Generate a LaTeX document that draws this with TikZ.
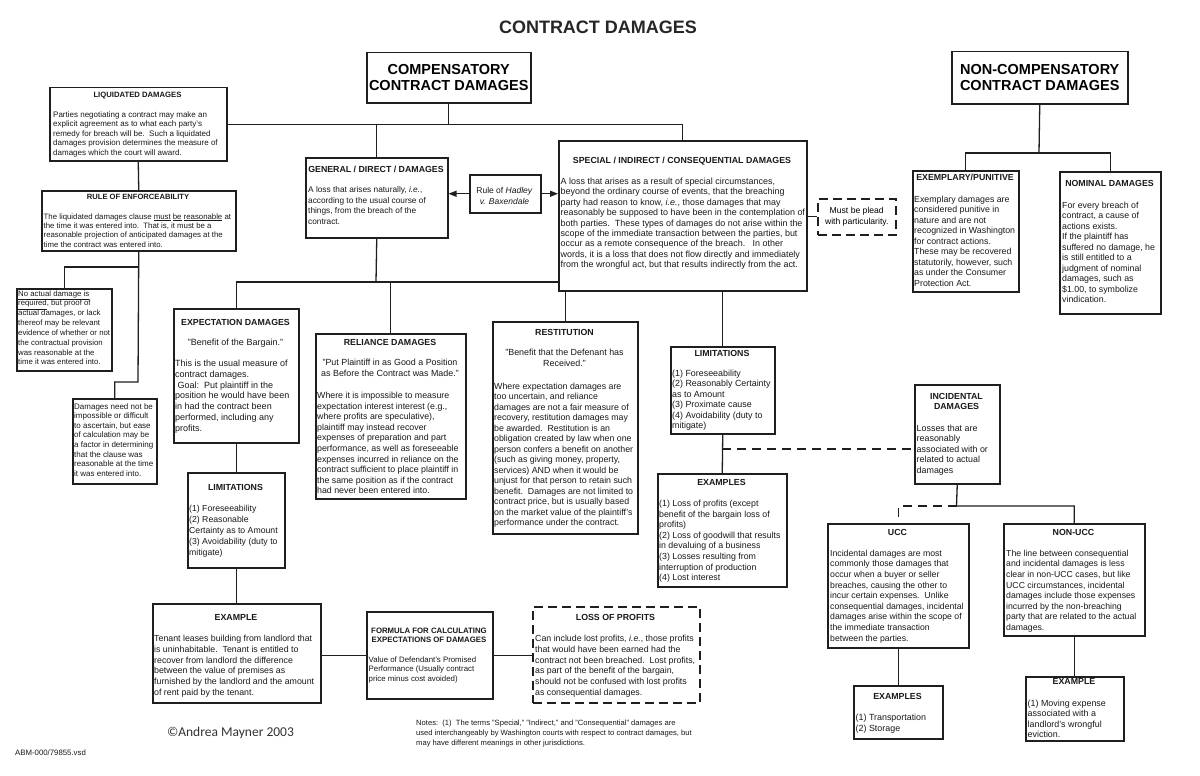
\documentclass[tikz,border=0pt]{standalone}
\usepackage{fontspec}
\setmainfont{Liberation Sans}
\newfontfamily\carl{Carlito}
\usetikzlibrary{arrows.meta}
\pgfdeclarelayer{bg}
\pgfsetlayers{bg,main}
\tikzset{
  box/.style={draw=black!88, line width=1.5pt, fill=white, inner sep=0pt, anchor=north west, rectangle},
  dbox/.style={box, dash pattern=on 9pt off 5pt},
  conn/.style={draw=black!88, line width=1.3pt},
  dconn/.style={conn, dash pattern=on 9pt off 6pt},
  arr/.style={conn, -{Triangle[length=8pt,width=6pt]}},
  hd/.style={font=\bfseries\fontsize{8.8}{10.4}\selectfont, inner sep=0pt, text=black!90, align=center},
  tx/.style={inner sep=0pt, text=black!90, align=left, anchor=north west},
  ctx/.style={inner sep=0pt, text=black!90, align=center},
}
\newcommand\bx[6][box]{\node[#1, minimum width={#5pt-#3pt}, minimum height={#6pt-#4pt}] (#2) at (#3,#4) {};}
\newcommand\tb[6]{\node[tx, font=\fontsize{#4}{#5}\selectfont] (#1) at ({#2+1},{#3-0.36*#4}) {#6};}
\begin{document}
\begin{tikzpicture}[x=1pt,y=-1pt]
\useasboundingbox (0,0) rectangle (1200,776);
\begin{pgfonlayer}{bg}
\fill[white] (0,0) rectangle (1200,776);
\end{pgfonlayer}

% headings
\node[inner sep=0pt, text=black!85, font=\bfseries\fontsize{18}{20}\selectfont] (ttl) at (598,27) {CONTRACT DAMAGES};
\node[box, minimum width=164pt, minimum height=50pt, align=center, font=\bfseries\fontsize{14.5}{16}\selectfont] (comp) at (366,52) {COMPENSATORY\\CONTRACT DAMAGES};
\node[box, minimum width=176pt, minimum height=52pt, align=center, font=\bfseries\fontsize{14.5}{16}\selectfont] (ncomp) at (951,51) {NON-COMPENSATORY\\CONTRACT DAMAGES};

% liquidated
\bx{liq}{49}{87}{226}{160}
\node[hd, font=\bfseries\fontsize{7.7}{9}\selectfont] (liqh) at (137.5,96) {LIQUIDATED DAMAGES};
\tb{liqb}{52}{114}{8}{9.6}{Parties negotiating a contract may make an\\explicit agreement as to what each party's\\remedy for breach will be.\ \ Such a liquidated\\damages provision determines the measure of\\damages which the court will award.}

\bx{rule}{41}{190}{235}{250}
\node[hd, font=\bfseries\fontsize{7.6}{9}\selectfont] (ruleh) at (138,197) {RULE OF ENFORCEABILITY};
\tb{ruleb}{42.5}{216}{7.8}{9.4}{The liquidated damages clause \underline{must} \underline{be} \underline{reasonable} at\\the time it was entered into.\ \ That is, it must be a\\reasonable projection of anticipated damages at the\\time the contract was entered into.}

\bx{noact}{16}{288}{111}{370}
\tb{noactb}{17}{293}{7.8}{9.85}{\underline{No actual damage is}\\\underline{required}, but proof of\\actual damages, or lack\\thereof may be relevant\\evidence of whether or not\\the contractual provision\\was reasonable at the\\time it was entered into.}

\bx{dmg}{72}{398}{156}{483}
\tb{dmgb}{73}{406}{8}{9.6}{Damages need not be\\impossible or difficult\\to ascertain, but ease\\of calculation may be\\a factor in determining\\that the clause was\\reasonable at the time\\it was entered into.}

% general / hadley / special
\bx{gen}{305}{157}{447}{237}
\node[hd] (genh) at (376,169) {GENERAL / DIRECT / DAMAGES};
\tb{genb}{307}{189}{8.3}{10.8}{A loss that arises naturally, \textit{i.e.},\\according to the usual course of\\things, from the breach of the\\contract.}

\bx{had}{469}{174}{540}{212}
\node[ctx, font=\fontsize{8.5}{10.5}\selectfont] (hadt) at (504.5,196) {Rule of \textit{Hadley}\\\textit{v. Baxendale}};

\bx{spec}{558}{140}{806}{290}
\node[hd] (spech) at (682,161) {SPECIAL / INDIRECT / CONSEQUENTIAL DAMAGES};
\tb{specb}{559.5}{181}{8.95}{10.4}{A loss that arises as a result of special circumstances,\\beyond the ordinary course of events, that the breaching\\party had reason to know, \textit{i.e.}, those damages that may\\reasonably be supposed to have been in the contemplation of\\both parties.\ \ These types of damages do not arise within the\\scope of the immediate transaction between the parties, but\\occur as a remote consequence of the breach.\ \ \ In other\\words, it is a loss that does not flow directly and immediately\\from the wrongful act, but that results indirectly from the act.}

\node[dbox, minimum width=78pt, minimum height=36pt, align=center, font=\fontsize{8.6}{11.5}\selectfont] (mbp) at (817,198) {Must be plead\\with particularity.};

% non-compensatory
\bx{exem}{912}{170}{1018}{291}
\node[hd] (exemh) at (965,177) {EXEMPLARY/PUNITIVE};
\tb{exemb}{913}{199}{8.8}{10.5}{Exemplary damages are\\considered punitive in\\nature and are not\\recognized in Washington\\for contract actions.\\These may be recovered\\statutorily, however, such\\as under the Consumer\\Protection Act.}

\bx{nom}{1059}{171}{1160}{313}
\node[hd] (nomh) at (1109.5,183) {NOMINAL DAMAGES};
\tb{nomb}{1061}{205}{8.8}{10.5}{For every breach of\\contract, a cause of\\actions exists.\\If the plaintiff has\\suffered no damage, he\\is still entitled to a\\judgment of nominal\\damages, such as\\\$1.00, to symbolize\\vindication.}

% middle row
\bx{exp}{173}{308}{298}{442}
\node[hd] (exph) at (235.5,322) {EXPECTATION DAMAGES};
\node[ctx, font=\fontsize{9}{10.8}\selectfont] (expq) at (235.5,343) {"Benefit of the Bargain."};
\tb{expb}{174}{363}{9}{10.8}{This is the usual measure of\\contract damages.\\\hspace*{2.5pt}Goal:\ \ Put plaintiff in the\\position he would have been\\in had the contract been\\performed, including any\\profits.}

\bx{rel}{315}{333}{465}{498}
\node[hd] (relh) at (390,342) {RELIANCE DAMAGES};
\node[ctx, font=\fontsize{8.9}{10.4}\selectfont] (relq) at (390,368) {"Put Plaintiff in as Good a Position\\as Before the Contract was Made."};
\tb{relb}{316}{395}{8.8}{10.6}{Where it is impossible to measure\\expectation interest interest (e.g.,\\where profits are speculative),\\plaintiff may instead recover\\expenses of preparation and part\\performance, as well as foreseeable\\expenses incurred in reliance on the\\contract sufficient to place plaintiff in\\the same position as if the contract\\had never been entered into.}

\bx{rest}{492}{321}{637}{533}
\node[hd] (resth) at (564.5,332) {RESTITUTION};
\node[ctx, font=\fontsize{8.9}{10.5}\selectfont] (restq) at (564.5,358) {"Benefit that the Defenant has\\Received."};
\tb{restb}{493}{386}{8.8}{10.5}{Where expectation damages are\\too uncertain, and reliance\\damages are not a fair measure of\\recovery, restitution damages may\\be awarded.\ \ Restitution is an\\obligation created by law when one\\person confers a benefit on another\\(such as giving money, property,\\services) AND when it would be\\unjust for that person to retain such\\benefit.\ \ Damages are not limited to\\contract price, but is usually based\\on the market value of the plaintiff's\\performance under the contract.}

\bx{lim2}{670}{346}{774}{433}
\node[hd] (lim2h) at (722,353) {LIMITATIONS};
\tb{lim2b}{671}{373}{8.9}{10.4}{(1) Foreseeability\\(2) Reasonably Certainty\\as to Amount\\(3) Proximate cause\\(4) Avoidability (duty to\\mitigate)}

\bx{ex2}{657}{473}{786}{586}
\node[hd] (ex2h) at (721.5,482) {EXAMPLES};
\tb{ex2b}{658}{503}{8.8}{10.6}{(1) Loss of profits (except\\benefit of the bargain loss of\\profits)\\(2) Loss of goodwill that results\\in devaluing of a business\\(3) Losses resulting from\\interruption of production\\(4) Lost interest}

% incidental
\bx{inc}{914}{384}{999}{483}
\node[hd, font=\bfseries\fontsize{8.8}{10.5}\selectfont] (inch) at (956.5,401.5) {INCIDENTAL\\DAMAGES};
\tb{incb}{915.5}{428}{8.9}{10.5}{Losses that are\\reasonably\\associated with or\\related to actual\\damages}

\bx{ucc}{827}{523}{968}{647}
\node[hd] (ucch) at (897.5,532) {UCC};
\tb{uccb}{829}{553}{8.7}{10.6}{Incidental damages are most\\commonly those damages that\\occur when a buyer or seller\\breaches, causing the other to\\incur certain expenses.\ \ Unlike\\consequential damages, incidental\\damages arise within the scope of\\the immediate transaction\\between the parties.}

\bx{nucc}{1003}{523}{1144}{635}
\node[hd] (nucch) at (1073.5,532) {NON-UCC};
\tb{nuccb}{1005}{553}{8.7}{10.6}{The line between consequential\\and incidental damages is less\\clear in non-UCC cases, but like\\UCC circumstances, incidental\\damages include those expenses\\incurred by the non-breaching\\party that are related to the actual\\damages.}

\bx{uex}{853}{685}{942}{738}
\node[hd] (uexh) at (897.5,696) {EXAMPLES};
\tb{uexb}{854.5}{717}{8.9}{10.6}{(1) Transportation\\(2) Storage}

\bx{nex}{1025}{676}{1123}{740}
\node[hd] (nexh) at (1074,681) {EXAMPLE};
\tb{nexb}{1026.5}{703}{8.9}{10.5}{(1) Moving expense\\associated with a\\landlord's wrongful\\eviction.}

% bottom left
\bx{lim1}{187}{472}{284}{567}
\node[hd] (lim1h) at (235.5,487) {LIMITATIONS};
\tb{lim1b}{188}{508}{8.7}{11}{(1) Foreseeability\\(2) Reasonable\\Certainty as to Amount\\(3) Avoidability (duty to\\mitigate)}

\bx{ex1}{152}{603}{320}{702}
\node[hd] (ex1h) at (236,617) {EXAMPLE};
\tb{ex1b}{153}{638}{8.8}{10.8}{Tenant leases building from landlord that\\is uninhabitable.\ \ Tenant is entitled to\\recover from landlord the difference\\between the value of premises as\\furnished by the landlord and the amount\\of rent paid by the tenant.}

\bx{form}{366}{611}{492}{698}
\node[hd, font=\bfseries\fontsize{7.8}{9.5}\selectfont] (formh) at (429,635.5) {FORMULA FOR CALCULATING\\EXPECTATIONS OF DAMAGES};
\tb{formb}{367.5}{659}{7.85}{9.7}{Value of Defendant's Promised\\Performance (Usually contract\\price minus cost avoided)}

\bx[dbox]{lop}{532}{606}{699}{702}
\node[hd] (loph) at (615.5,617) {LOSS OF PROFITS};
\tb{lopb}{534}{638}{8.8}{10.8}{Can include lost profits, \textit{i.e.}, those profits\\that would have been earned had the\\contract not been breached.\ \ Lost profits,\\as part of the benefit of the bargain,\\should not be confused with lost profits\\as consequential damages.}

\tb{notes}{415}{723}{7.6}{9.7}{Notes:\ \ (1)\ \ The terms "Special," "Indirect," and "Consequential" damages are\\used interchangeably by Washington courts with respect to contract damages, but\\may have different meanings in other jurisdictions.}

\node[inner sep=0pt, text=black!80, font=\carl\fontsize{13.5}{15}\selectfont] (copy) at (230.5,733) {©Andrea Mayner 2003};
\node[inner sep=0pt, anchor=west, text=black!90, font=\fontsize{7.8}{9}\selectfont] (abm) at (15,753) {ABM-000/79855.vsd};

% connectors
\begin{pgfonlayer}{bg}
\draw[conn] (liq.east) -- (spec.north |- liq.east) -- (spec.north);
\draw[conn] (comp.south) -- (comp.south |- liq.east);
\draw[conn] (gen.north) -- (gen.north |- liq.east);
\draw[conn] (liq.south) -- (rule.north);
\coordinate (ja) at (138,267);
\coordinate (jb) at (138,382);
\draw[conn] (rule.south) -- (jb) -| (dmg.north);
\draw[conn] (ja) -| (noact.north);
\coordinate (jm) at (376,282);
\draw[conn] (gen.south) -- (jm);
\draw[conn] (exp.north) |- (jm) -| (rest.north);
\draw[conn] (rel.north) -- (rel.north |- jm);
\draw[conn] (spec.south -| lim2.north) -- (lim2.north);
\draw[conn] (lim2.south) -- (ex2.north);
\coordinate (jd) at (722,449);
\draw[dconn] (jd) -- (jd -| inc.west);
\coordinate (ji) at (956.5,506);
\draw[conn] (inc.south) -- (ji) -| (nucc.north);
\draw[dconn] (ji) -| (ucc.north);
\draw[conn] (ucc.south) -- (uex.north);
\draw[conn] (nucc.south) -- (nucc.south |- nex.north);
\coordinate (jn) at (1039,153);
\draw[conn] (ncomp.south) -- (jn);
\draw[conn] (exem.north) |- (jn) -| (nom.north);
\draw[conn] (exp.south) -- (lim1.north);
\draw[conn] (lim1.south) -- (lim1.south |- ex1.north);
\draw[conn] (ex1.east |- form.west) -- (form.west);
\draw[conn] (form.east) -- (form.east -| lop.west);
\draw[conn] (spec.east |- mbp.west) -- (mbp.west);
\draw[arr] (had.west) -- (had.west -| gen.east);
\draw[arr] (had.east) -- (had.east -| spec.west);
\end{pgfonlayer}
\end{tikzpicture}
\end{document}
